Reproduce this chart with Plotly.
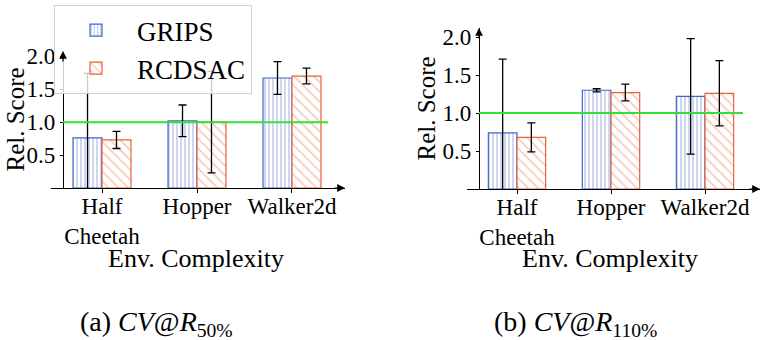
import plotly.graph_objects as go

# ---------------- data ----------------
categories = ["Half<br>Cheetah", "Hopper", "Walker2d"]
methods = ["GRIPS", "RCDSAC"]

grips_50 = [0.76, 1.02, 1.67]
grips_50_err = [0.98, 0.24, 0.25]
rcdsac_50 = [0.73, 1.00, 1.70]
rcdsac_50_err = [0.13, 0.77, 0.12]

grips_110 = [0.74, 1.30, 1.22]
grips_110_err = [0.97, 0.02, 0.76]
rcdsac_110 = [0.68, 1.27, 1.26]
rcdsac_110_err = [0.19, 0.11, 0.43]

y_ticks = [0.5, 1.0, 1.5, 2.0]
y_tick_labels = ["0.5", "1.0", "1.5", "2.0"]
reference_level = 1.0

captions = ["(a) <i>CV</i>@<i>R</i><sub>50%</sub>", "(b) <i>CV</i>@<i>R</i><sub>110%</sub>"]

# ---------------- style ----------------
FONT = "Liberation Serif"
BLUE_EDGE = "#4466c4"
BLUE_HATCH = "#5a7bd4"
ORANGE_EDGE = "#e5623a"
ORANGE_HATCH = "#ea754c"
GREEN = "#35e035"

W, H = 763, 340


def px_x(p):
    return p / W


def px_y(p):
    return 1 - p / H


styles = {
    "GRIPS": dict(edge=BLUE_EDGE, hatch=BLUE_HATCH, shape="|", size=4, solidity=0.3),
    "RCDSAC": dict(edge=ORANGE_EDGE, hatch=ORANGE_HATCH, shape="\\", size=7, solidity=0.18),
}

fig = go.Figure()

panels = [
    ("x", "y", [grips_50, rcdsac_50], [grips_50_err, rcdsac_50_err], True),
    ("x2", "y2", [grips_110, rcdsac_110], [grips_110_err, rcdsac_110_err], False),
]

for xa, ya, vals, errs, show in panels:
    for m, v, e in zip(methods, vals, errs):
        s = styles[m]
        fig.add_trace(go.Bar(
            x=categories, y=v, name=m, xaxis=xa, yaxis=ya,
            offsetgroup=m, legendgroup=m, showlegend=show,
            marker=dict(
                color="white",
                line=dict(color=s["edge"], width=1.2),
                pattern=dict(shape=s["shape"], fgcolor=s["hatch"], bgcolor="white",
                             size=s["size"], solidity=s["solidity"], fillmode="overlay"),
            ),
            error_y=dict(type="data", array=e, visible=True, color="black",
                         thickness=1.3, width=4),
        ))

axis_font = dict(family=FONT, size=23, color="black")

common_x = dict(type="category", showline=True, linecolor="black", linewidth=1.2,
                ticks="outside", ticklen=4, tickcolor="black", tickwidth=1,
                ticklabelstandoff=-7,
                showgrid=False, zeroline=False, tickfont=axis_font, fixedrange=True,
                automargin=False)
common_y = dict(showline=True, linecolor="black", linewidth=1.2, anchor="free",
                ticks="outside", ticklen=3, tickcolor="black", tickwidth=1,
                tickvals=y_ticks, ticktext=y_tick_labels,
                showgrid=False, zeroline=False, tickfont=axis_font, fixedrange=True,
                automargin=False)

fig.update_layout(
    width=W, height=H,
    margin=dict(l=0, r=0, t=0, b=0),
    paper_bgcolor="white", plot_bgcolor="white",
    barmode="group", bargap=0.39, bargroupgap=0,
    font=dict(family=FONT, color="black"),
    xaxis=dict(common_x, domain=[px_x(51), px_x(345)], range=[-0.537, 2.558], anchor="y"),
    yaxis=dict(common_y, domain=[px_y(188), px_y(51)], range=[0, 2.08], position=px_x(63)),
    xaxis2=dict(common_x, domain=[px_x(467), px_x(760)], range=[-0.532, 2.585], anchor="y2"),
    yaxis2=dict(common_y, domain=[px_y(189), px_y(28)], range=[0, 2.12], position=px_x(479)),
    legend=dict(
        x=px_x(54), y=px_y(5), xanchor="left", yanchor="top",
        bgcolor="rgba(255,255,255,0.8)", bordercolor="#d0d0d0", borderwidth=1,
        font=dict(family=FONT, size=27, color="black"),
        itemwidth=72, tracegroupgap=0,
    ),
)

# reference line at 1.0
for xa, ya in [("x", "y"), ("x2", "y2")]:
    fig.add_shape(type="line", xref=f"{xa} domain", yref=ya,
                  x0=0.041, x1=0.942, y0=reference_level, y1=reference_level,
                  line=dict(color=GREEN, width=2), layer="above")

# axis titles and x-axis arrows
for xa, ya, ytitle_x, xcenter in [("x", "y", px_x(15), px_x(196)), ("x2", "y2", px_x(426), px_x(610))]:
    fig.add_annotation(xref=f"{xa} domain", yref=f"{ya} domain", x=1.0, y=0,
                       ax=-12, ay=0, showarrow=True, arrowhead=2, arrowsize=1.3,
                       arrowwidth=1.2, arrowcolor="black", text="")
    fig.add_annotation(xref="paper", yref=f"{ya} domain", x=ytitle_x, y=0.5,
                       xanchor="center", yanchor="middle",
                       text="Rel. Score", textangle=-90, showarrow=False,
                       font=dict(family=FONT, size=25, color="black"))
    fig.add_annotation(xref="paper", yref="paper", x=xcenter, y=px_y(258),
                       xanchor="center", yanchor="middle",
                       text="Env. Complexity", showarrow=False,
                       font=dict(family=FONT, size=26, color="black"))

# y-axis arrows
for ya, xpos in [("y", px_x(63)), ("y2", px_x(479))]:
    fig.add_annotation(xref="paper", yref=f"{ya} domain", x=xpos, y=1.0, ax=0, ay=12,
                       showarrow=True, arrowhead=2, arrowsize=1.3, arrowwidth=1.2,
                       arrowcolor="black", text="")

# captions
for cap, cx in zip(captions, [px_x(78), px_x(492)]):
    fig.add_annotation(xref="paper", yref="paper", x=cx, y=px_y(323),
                       xanchor="left", yanchor="middle",
                       text=cap, showarrow=False,
                       font=dict(family=FONT, size=28, color="black"))

fig.write_html("out.html", post_script="document.body.style.margin='0';",
               config={"displayModeBar": False})
